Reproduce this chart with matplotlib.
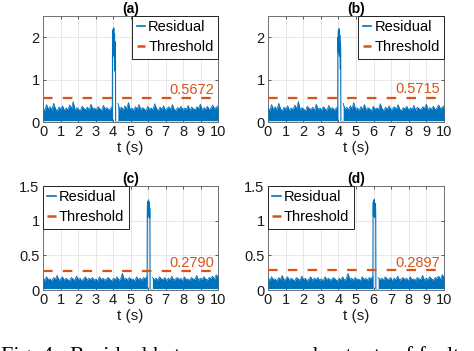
import numpy as np
import matplotlib
matplotlib.use("Agg")
import matplotlib.pyplot as plt
from matplotlib.lines import Line2D

plt.rcParams['font.family'] = ['Liberation Sans', 'DejaVu Sans']

# ---------------- data ----------------
panel_titles = ["(a)", "(b)", "(c)", "(d)"]
thresholds = [0.5672, 0.5715, 0.2790, 0.2897]
threshold_labels = ["0.5672", "0.5715", "0.2790", "0.2897"]
x_ticks = [0, 1, 2, 3, 4, 5, 6, 7, 8, 9, 10]
y_ticks_top = [0, 1, 2]
y_ticks_bottom = [0, 0.5, 1, 1.5]
y_tick_labels_bottom = ["0", "0.5", "1", "1.5"]

# noise envelope (top of dense residual band), row 1 (panels a, b)
row1_pre = [0.33, 0.27, 0.41, 0.30, 0.36, 0.28, 0.44, 0.31, 0.26, 0.35,
            0.30, 0.38, 0.27, 0.33, 0.29, 0.40, 0.31, 0.48, 0.28, 0.34,
            0.30, 0.26, 0.37, 0.32, 0.29, 0.35, 0.27, 0.42, 0.30, 0.33,
            0.28, 0.36, 0.31, 0.27, 0.39, 0.30, 0.34, 0.28, 0.32, 0.36]
row1_post = [0.44, 0.30, 0.35, 0.28, 0.38, 0.31, 0.46, 0.29, 0.33, 0.27,
             0.36, 0.30, 0.41, 0.28, 0.34, 0.31, 0.26, 0.37, 0.30, 0.33,
             0.29, 0.43, 0.31, 0.27, 0.35, 0.30, 0.38, 0.28, 0.32, 0.36,
             0.29, 0.41, 0.30, 0.27, 0.34, 0.31, 0.37, 0.28, 0.33, 0.30,
             0.39, 0.27, 0.35, 0.31, 0.29, 0.36, 0.32, 0.42, 0.28, 0.34,
             0.30, 0.37, 0.29, 0.33, 0.40, 0.31, 0.35, 0.38]
# row 2 (panels c, d)
row2_pre = [0.17, 0.14, 0.19, 0.15, 0.16, 0.13, 0.18, 0.15, 0.21, 0.14,
            0.16, 0.19, 0.14, 0.17, 0.15, 0.13, 0.18, 0.16, 0.14, 0.20,
            0.15, 0.17, 0.13, 0.16, 0.19, 0.14, 0.17, 0.15, 0.18, 0.14,
            0.16, 0.13, 0.19, 0.15, 0.17, 0.14, 0.16, 0.18, 0.15, 0.13,
            0.17, 0.15, 0.19, 0.14, 0.16, 0.24, 0.15, 0.17, 0.14, 0.18,
            0.15, 0.16, 0.13, 0.19, 0.15, 0.17, 0.14, 0.18, 0.16, 0.20]
row2_post = [0.18, 0.15, 0.17, 0.14, 0.19, 0.16, 0.15, 0.18, 0.13, 0.17,
             0.15, 0.20, 0.14, 0.16, 0.18, 0.15, 0.17, 0.13, 0.19, 0.15,
             0.16, 0.14, 0.18, 0.16, 0.15, 0.21, 0.14, 0.17, 0.15, 0.19,
             0.16, 0.14, 0.18, 0.17, 0.20, 0.15, 0.22, 0.19]
noise_floor = [0.03, 0.03, 0.02, 0.02]

# fault windows (start, end of fault burst, start of noise after gap)
fault_start = [3.96, 3.96, 5.95, 5.96]
fault_end = [4.15, 4.14, 6.12, 6.13]
noise_resume = [4.28, 4.27, 6.25, 6.26]
fault_a = [0.03, 1.55, 1.95, 1.62, 2.18, 1.70, 2.05, 1.58, 2.22, 1.75,
           1.98, 1.52, 2.08, 1.66, 1.90, 1.20, 1.85, 1.60, 0.03]
fault_b = [0.03, 1.60, 2.00, 1.65, 2.15, 1.72, 2.02, 1.60, 2.20, 1.78,
           1.95, 1.55, 2.05, 1.68, 1.88, 1.25, 1.82, 1.62, 0.03]
fault_c = [0.02, 1.08, 1.25, 1.10, 1.28, 1.05, 1.22, 1.12, 1.30, 1.06,
           1.20, 1.09, 1.26, 1.04, 1.18, 1.10, 0.02]
fault_d = [0.02, 1.10, 1.27, 1.08, 1.29, 1.06, 1.24, 1.11, 1.31, 1.05,
           1.22, 1.08, 1.25, 1.06, 1.20, 1.09, 0.02]
fault_vals = [fault_a, fault_b, fault_c, fault_d]
noise_pre = [row1_pre, row1_pre, row2_pre, row2_pre]
noise_post = [row1_post, row1_post, row2_post, row2_post]

caption = ("Fig. 4.  Residual between measured outputs of fault "
           "cases and corresponding li")

# ---------------- style ----------------
BLUE = "#0072BD"
ORANGE = "#D95319"
W, H = 474, 351
fig = plt.figure(figsize=(W / 100, H / 100), dpi=100)

# axes boxes in pixels: left, top, right, bottom
boxes = [(43, 16, 218, 122), (268, 16, 444, 122),
         (43, 186, 218, 290), (268, 186, 444, 290)]

for i in range(4):
    l, t, r, b = boxes[i]
    ax = fig.add_axes([l / W, 1 - b / H, (r - l) / W, (b - t) / H])
    top_row = i < 2
    ymax = 2.5 if top_row else 1.5

    # dense residual noise band
    pre = noise_pre[i]
    post = noise_post[i]
    t_pre = np.linspace(0, fault_start[i], len(pre))
    t_post = np.linspace(noise_resume[i], 10, len(post))
    fl = noise_floor[i]
    ax.fill_between(t_pre, fl, pre, color=BLUE, lw=0, zorder=3)
    ax.plot(t_pre, pre, color=BLUE, lw=0.6, zorder=3)
    ax.fill_between(t_post, fl, post, color=BLUE, lw=0, zorder=3)
    ax.plot(t_post, post, color=BLUE, lw=0.6, zorder=3)

    # fault burst
    fv = fault_vals[i]
    t_f = np.linspace(fault_start[i], fault_end[i], len(fv))
    ax.plot(t_f, fv, color=BLUE, lw=0.8, zorder=3)
    # near-zero gap after fault
    ax.plot([fault_end[i], noise_resume[i]], [fv[-1], fl], color=BLUE,
            lw=0.5, alpha=0.5, zorder=3)

    # threshold
    ax.axhline(thresholds[i], color=ORANGE, lw=1.6, dashes=(4.3, 4.6),
               zorder=4)
    ax.text(9.78, thresholds[i] + (0.03 if top_row else 0.005),
            threshold_labels[i], color=ORANGE, fontsize=10.5,
            ha='right', va='bottom', zorder=5)

    ax.set_xlim(0, 10)
    ax.set_ylim(0, ymax)
    ax.set_xticks(x_ticks)
    ax.set_xticklabels([str(v) for v in x_ticks])
    if top_row:
        ax.set_yticks(y_ticks_top)
        ax.set_yticklabels([str(v) for v in y_ticks_top])
    else:
        ax.set_yticks(y_ticks_bottom)
        ax.set_yticklabels(y_tick_labels_bottom)
    ax.grid(True, color="#E3E3E3", lw=0.6, zorder=0)
    ax.set_axisbelow(True)
    ax.tick_params(direction='in', top=True, right=True, length=2.5,
                   width=0.6, color="#404040", labelsize=10.5,
                   labelcolor="#1a1a1a", pad=2.5)
    for sp in ax.spines.values():
        sp.set_color("#707070")
        sp.set_linewidth(0.7)
    ax.set_xlabel("t (s)", fontsize=11, labelpad=1, color="#1a1a1a")
    ax.set_title(panel_titles[i], fontsize=10, fontweight='bold', pad=2.5)

    handles = [Line2D([], [], color=BLUE, lw=1.2),
               Line2D([], [], color=ORANGE, lw=1.8, dashes=(4.3, 4.6))]
    leg = ax.legend(handles, ["Residual", "Threshold"],
                    loc='upper right' if top_row else 'upper left',
                    fontsize=10.5, frameon=True, fancybox=False,
                    borderaxespad=0, borderpad=0.3, labelspacing=0.4,
                    handlelength=0.6, handletextpad=0.2)
    leg.get_frame().set_edgecolor("#222222")
    leg.get_frame().set_linewidth(0.7)
    leg.get_frame().set_alpha(1)
    leg.set_zorder(10)

fig.text(0.002, 1 - 361 / H, caption, fontsize=16,
         family=['Liberation Serif', 'DejaVu Serif'], va='baseline',
         ha='left')

fig.savefig("out.png", dpi=100)
